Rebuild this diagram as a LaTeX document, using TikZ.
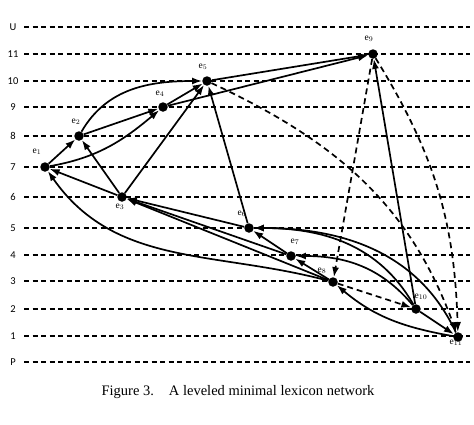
\documentclass[tikz,border=0pt]{standalone}
\usepackage{fontspec}
\setmainfont{Liberation Serif}
\newfontfamily\levelfont{Carlito}
\usetikzlibrary{arrows.meta}

\begin{document}
\begin{tikzpicture}[x=1pt,y=1pt]
            \tikzstyle{every node}+=[inner sep=0pt]
            \tikzstyle{state}=[circle,fill=black,minimum size=9.5pt]
            \tikzstyle{lbl}=[font=\fontsize{9.5}{9.5}\selectfont]
            \tikzstyle{level}=[black,line width=1.5pt,dash pattern=on 5pt off 3.5pt]
            \tikzstyle{edge}=[black,line width=1.7pt,-{Latex[length=10pt,width=7pt]}]
            \tikzstyle{dedge}=[edge,dash pattern=on 6pt off 4pt]
            \useasboundingbox (0,0) rectangle (474,-424);
            % levels
            \foreach \lv/\y in {U/27,11/54,10/81,9/107,8/136,7/167,6/197,5/228,4/255,3/281,2/309,1/336,P/362}
            {
              \node [font=\levelfont\fontsize{10.5}{10.5}\selectfont] (lv\lv) at (13,-\y) {\lv};
              \draw [level] (24,-\y) -- (470,-\y);
            }
            % words
            \node [state] (e1) at (45,-167) {};
            \node [state] (e2) at (79,-136) {};
            \node [state] (e3) at (122,-197) {};
            \node [state] (e4) at (163,-107) {};
            \node [state] (e5) at (207,-81) {};
            \node [state] (e6) at (249,-228) {};
            \node [state] (e7) at (291,-256) {};
            \node [state] (e8) at (333,-282) {};
            \node [state] (e9) at (373,-54) {};
            \node [state] (e10) at (416,-309) {};
            \node [state] (e11) at (458,-337) {};
            \node [lbl] (t1) at (37,-152) {e$_{1}$};
            \node [lbl] (t2) at (76,-122) {e$_{2}$};
            \node [lbl] (t3) at (120,-207) {e$_{3}$};
            \node [lbl] (t4) at (160,-94) {e$_{4}$};
            \node [lbl] (t5) at (203,-67) {e$_{5}$};
            \node [lbl] (t6) at (242,-214) {e$_{6}$};
            \node [lbl] (t7) at (295,-242) {e$_{7}$};
            \node [lbl] (t8) at (322,-271) {e$_{8}$};
            \node [lbl] (t9) at (369,-39) {e$_{9}$};
            \node [lbl] (t10) at (421,-297) {e$_{10}$};
            \node [lbl] (t11) at (456,-343) {e$_{11}$};
            % straight links
            \foreach \a/\b in {e1/e2,e2/e4,e4/e5,e3/e2,e3/e5,e3/e1,e6/e3,e7/e3,e8/e3,e7/e6,e8/e7,e6/e5,e5/e9,e4/e9,e10/e9,e10/e11}
              \draw [edge] (\a) -- (\b);
            % curved links
            \draw [edge] (e2) to [out=60,in=180] (e5);
            \draw [edge] (e1) to [out=10,in=220] (e4);
            \draw [edge] (e8) to [out=165,in=-55] (e1);
            \draw [edge] (e11) to [out=170,in=-40] (e8);
            \draw [edge] (e10) to [out=130,in=0] (e7);
            \draw [edge] (e10) to [out=120,in=0] (e6);
            \draw [edge] (e11) to [out=115,in=0] (e6);
            % dashed links
            \draw [dedge] (e5) to [out=-25,in=110] (e11);
            \draw [dedge] (e9) to [bend left=15] (e11);
            \draw [dedge] (e9) -- (e8);
            \draw [dedge] (e8) -- (e10);
            % caption
            \node [font=\fontsize{14.5}{14.5}\selectfont] (cap) at (238,-392) {Figure 3.\hspace{15pt}A leveled minimal lexicon network};
\end{tikzpicture}
\end{document}
